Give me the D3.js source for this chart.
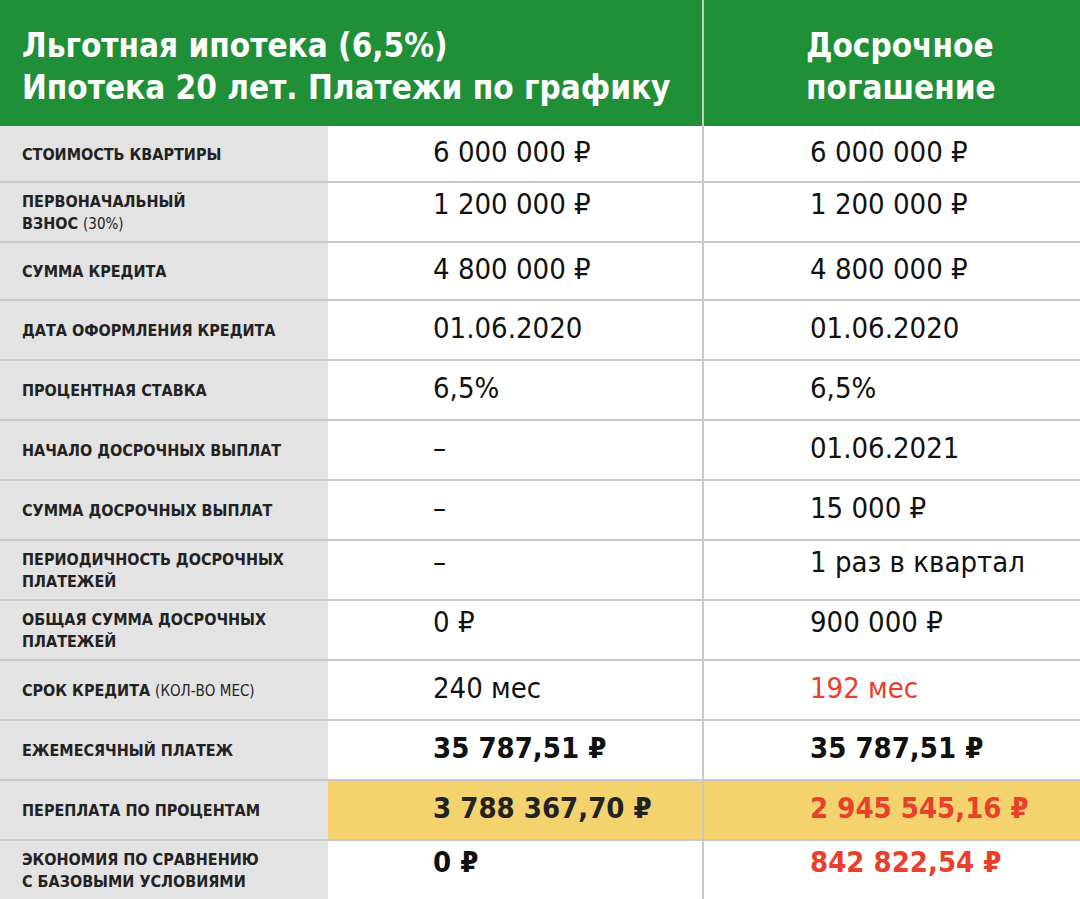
<!DOCTYPE html><html><head><meta charset="utf-8">
<script src="https://cdn.jsdelivr.net/npm/d3@7"></script>
<style>body{margin:0;background:#fff}</style></head><body><svg id="c" width="1080" height="899"></svg>
<script>
const headerLeft=["Льготная ипотека (6,5%)","Ипотека 20 лет. Платежи по графику"];
const headerRight=["Досрочное","погашение"];
const labels=[[["СТОИМОСТЬ КВАРТИРЫ",""]],[["ПЕРВОНАЧАЛЬНЫЙ",""],["ВЗНОС ","(30%)"]],[["СУММА КРЕДИТА",""]],[["ДАТА ОФОРМЛЕНИЯ КРЕДИТА",""]],[["ПРОЦЕНТНАЯ СТАВКА",""]],[["НАЧАЛО ДОСРОЧНЫХ ВЫПЛАТ",""]],[["СУММА ДОСРОЧНЫХ ВЫПЛАТ",""]],[["ПЕРИОДИЧНОСТЬ ДОСРОЧНЫХ",""],["ПЛАТЕЖЕЙ",""]],[["ОБЩАЯ СУММА ДОСРОЧНЫХ",""],["ПЛАТЕЖЕЙ",""]],[["СРОК КРЕДИТА ","(КОЛ-ВО МЕС)"]],[["ЕЖЕМЕСЯЧНЫЙ ПЛАТЕЖ",""]],[["ПЕРЕПЛАТА ПО ПРОЦЕНТАМ",""]],[["ЭКОНОМИЯ ПО СРАВНЕНИЮ",""],["С БАЗОВЫМИ УСЛОВИЯМИ",""]]];
const baseValues=["6 000 000 ₽","1 200 000 ₽","4 800 000 ₽","01.06.2020","6,5%","–","–","–","0 ₽","240 мес","35 787,51 ₽","3 788 367,70 ₽","0 ₽"];
const earlyValues=["6 000 000 ₽","1 200 000 ₽","4 800 000 ₽","01.06.2020","6,5%","01.06.2021","15 000 ₽","1 раз в квартал","900 000 ₽","192 мес","35 787,51 ₽","2 945 545,16 ₽","842 822,54 ₽"];
const boldRows=[10,11,12], redRows=[9,11,12], yellowRow=11;
const rowEdges=[126,182,242,300,360,420,480,540,600,660,720,780,840,899];
const F='"Liberation Sans Narrow","DejaVu Sans Condensed","Roboto",sans-serif';
const svg=d3.select("#c");
const y=i=>rowEdges[i];
svg.append("rect").attr("width",1080).attr("height",126).attr("fill","#1f9038");
svg.append("rect").attr("y",126).attr("width",328).attr("height",773).attr("fill","#e3e3e3");
svg.append("rect").attr("x",328).attr("y",y(yellowRow)).attr("width",752).attr("height",y(yellowRow+1)-y(yellowRow)).attr("fill","#f4d36e");
svg.selectAll(".hl").data(rowEdges.slice(1,-1)).join("line").attr("x1",0).attr("x2",1080).attr("y1",d=>d).attr("y2",d=>d).attr("stroke","#c8c8c8").attr("stroke-width",2);
svg.append("line").attr("x1",703).attr("x2",703).attr("y1",0).attr("y2",899).attr("stroke","#c8c8c8").attr("stroke-width",2);
const hd=(arr,x)=>arr.forEach((t,i)=>svg.append("text").attr("x",x).attr("y",57+i*42).attr("fill","#fff").attr("font-family",F).attr("font-weight","bold").attr("font-size",33).text(t));
hd(headerLeft,22);hd(headerRight,806);
labels.forEach((lines,i)=>{const cy=(y(i)+y(i+1))/2;const n=lines.length;
 lines.forEach((l,j)=>{const t=svg.append("text").attr("x",22).attr("y",cy+6+(j-(n-1)/2)*22).attr("font-family",F).attr("font-size",16).attr("fill","#222");
 t.append("tspan").attr("font-weight","bold").text(l[0]);if(l[1])t.append("tspan").attr("font-size",15).text(l[1]);});});
const val=(arr,x,red)=>arr.forEach((v,i)=>{const cy=(y(i)+y(i+1))/2;svg.append("text").attr("x",x).attr("y",cy+(n2(i))).attr("font-family",F).attr("font-size",29)
 .attr("font-weight",boldRows.includes(i)?"bold":"normal").attr("fill",red&&redRows.includes(i)?"#e8402a":(i===yellowRow?"#222":"#111")).text(v);});
const n2=i=>labels[i].length>1?2:8;
val(baseValues,433,false);val(earlyValues,810,true);
</script></body></html>
